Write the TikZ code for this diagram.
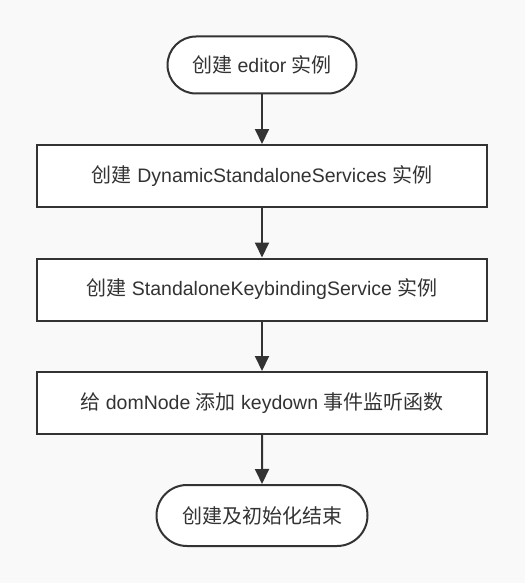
\documentclass[tikz,border=0pt]{standalone}
\usepackage{fontspec}
\setmainfont{Liberation Sans}
\newfontfamily\cjk{Noto Sans CJK SC}
\usepackage{tikz}
\usetikzlibrary{arrows.meta}
\usetikzlibrary{shapes.misc}

\definecolor{rub}{HTML}{333333}
\definecolor{pozadina}{HTML}{F9F9F9}

\tikzset{
	korak/.style={draw=rub, line width=2pt, fill=white, minimum width=450pt, minimum height=62pt, inner sep=0pt, font=\fontsize{19.5}{22}\selectfont, text=rub},
	kraj/.style={draw=rub, line width=2pt, fill=white, rounded rectangle, inner sep=0pt, font=\fontsize{19.5}{22}\selectfont, text=rub},
	strelica/.style={-{Triangle[length=15pt,width=14pt]}, line width=2pt, draw=rub, fill=rub}
}
\newcommand{\kin}[1]{{\cjk\fontsize{20}{22}\selectfont #1}}

\begin{document}
\begin{tikzpicture}[x=1pt,y=-1pt]
			\fill[pozadina] (0,0) rectangle (525,583);
			\useasboundingbox (0,0) rectangle (525,583);
			
			\node[kraj, minimum width=189pt, minimum height=57pt] (pocetak) at (262,65) {\kin{创建} editor \kin{实例}};
			\node[korak] (dynamic) at (262,176) {\kin{创建} DynamicStandaloneServices \kin{实例}};
			\node[korak] (keybinding) at (262,289.5) {\kin{创建} StandaloneKeybindingService \kin{实例}};
			\node[korak] (keydown) at (262,403) {\kin{给} domNode \kin{添加} keydown \kin{事件监听函数}};
			\node[kraj, minimum width=211pt, minimum height=61pt] (zavrsetak) at (262,515.5) {\kin{创建及初始化结束}};
			
			\draw[strelica] (pocetak) to (dynamic);
			\draw[strelica] (dynamic) to (keybinding);
			\draw[strelica] (keybinding) to (keydown);
			\draw[strelica] (keydown) to (zavrsetak);
			
		\end{tikzpicture}
\end{document}
